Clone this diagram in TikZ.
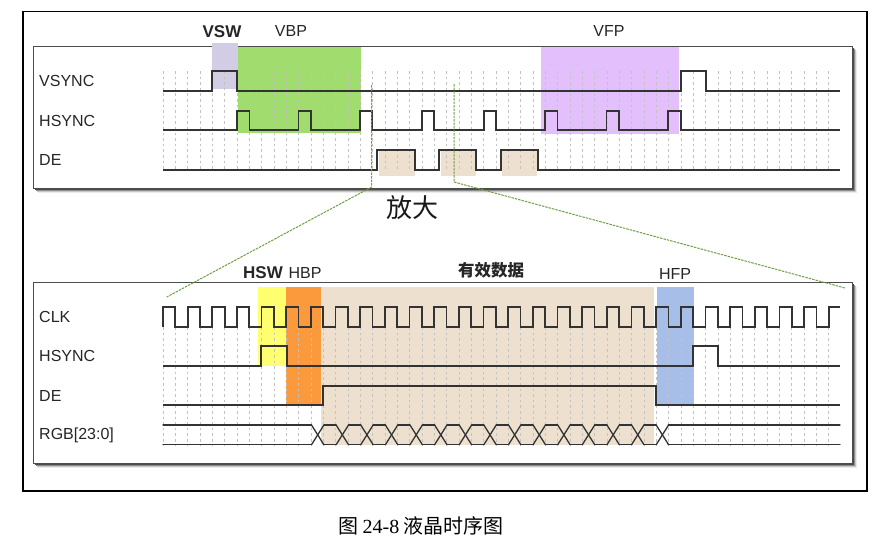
\documentclass[tikz,border=0pt]{standalone}
\usepackage{fontspec}
\setmainfont{Liberation Sans}
\newfontfamily\cjk{Noto Sans CJK SC}
\newfontfamily\serifnum{Liberation Serif}
\definecolor{wave}{HTML}{333333}
\definecolor{vswc}{HTML}{D2CCE4}
\definecolor{vbpc}{HTML}{A0DD6E}
\definecolor{vfpc}{HTML}{E3BFFB}
\definecolor{beige}{HTML}{EDE0CF}
\definecolor{hswc}{HTML}{FFFF70}
\definecolor{hbpc}{HTML}{FA9A3C}
\definecolor{hfpc}{HTML}{A6BEE8}
\definecolor{zoomc}{HTML}{6FA045}
\tikzset{
  x=1pt,y=-1pt,
  panelbox/.style={draw=black!70,line width=1pt,fill=white},
  sig/.style={draw=wave,line width=1.7pt,line join=miter},
  busl/.style={draw=wave,line width=1.3pt,line cap=round},
  gridl/.style={draw=black!24,line width=0.7pt,dash pattern=on 2.6pt off 3pt},
  siglabel/.style={anchor=west,inner sep=0pt,font=\fontsize{16}{16}\selectfont,text=black!85},
  headlabel/.style={inner sep=0pt,font=\fontsize{16}{16}\selectfont,text=black!85},
  headbold/.style={inner sep=0pt,font=\fontsize{17}{17}\selectfont\bfseries,text=black!85},
  zoomline/.style={draw=zoomc,line width=1pt,dash pattern=on 2.5pt off 1pt},
}
\newcommand{\shadowbox}[4]{%
  \foreach \o/\k in {4.5/8,3.5/22,2.5/45,1.5/70}{
    \fill[black!\k] (#1+\o,#2+\o) rectangle (#3+\o,#4+\o);
  }%
}
\begin{document}
\begin{tikzpicture}
\useasboundingbox (0,0) rectangle (879,541);
\fill[white] (0,0) rectangle (879,541);
\draw[black,line width=1.7pt] (23,11.5) rectangle (867,491);

% panels
\shadowbox{33.5}{46.7}{852}{188}
\shadowbox{33.5}{282}{852}{463}
\draw[panelbox] (33.5,46.7) rectangle (852,188);
\draw[panelbox] (33.5,282) rectangle (852,463);

% top shades
\fill[vswc] (212,43) rectangle (237.5,89);
\fill[vbpc] (237.5,47) rectangle (360.7,132.7);
\fill[vfpc] (541,47) rectangle (678.7,134);
\fill[beige] (379.3,151) rectangle (414.7,175.7);
\fill[beige] (441,151) rectangle (476,175.7);
\fill[beige] (501.5,151) rectangle (537,175.7);

% bottom shades
\fill[beige] (321.3,287.3) rectangle (654,445);
\fill[hswc] (257.7,286.7) rectangle (286,366);
\fill[hbpc] (286,286.7) rectangle (321.3,405);
\fill[hfpc] (656.7,287.3) rectangle (694.3,404);

% grid
\foreach \k in {0,...,54}{
  \draw[gridl] ({163+12.33*\k},71) -- ({163+12.33*\k},170);
  \draw[gridl] ({163+12.33*\k},327) -- ({163+12.33*\k},445);
}

% top waves
\draw[sig] (163,91) -- (212.3,91) -- (212.3,71.3) -- (237.3,71.3) -- (237.3,91) -- (680.7,91) -- (680.7,71.3) -- (705.7,71.3) -- (705.7,91) -- (840,91);
\draw[sig] (163,130.3)
  \foreach \a/\b in {237.3/249.4,298.4/311,360/372.3,422.3/434.3,483.7/496,545/557.5,606.5/619,668.3/680.7}{
    -- (\a,130.3) -- (\a,110.7) -- (\b,110.7) -- (\b,130.3)
  } -- (840,130.3);
\draw[sig] (163,170)
  \foreach \a/\b in {377.3/414.7,439.3/476,500.7/537.7}{
    -- (\a,170) -- (\a,150.3) -- (\b,150.3) -- (\b,170)
  } -- (840,170);

% bottom waves
\draw[sig] (163,326.7) -- (163,307)
  \foreach \k in {0,...,26}{
    -- ({163+24.66*\k+12.33},307) -- ({163+24.66*\k+12.33},326.7) -- ({163+24.66*(\k+1)},326.7) -- ({163+24.66*(\k+1)},307)
  } -- (840,307);
\draw[sig] (163,366) -- (261.3,366) -- (261.3,346) -- (286.7,346) -- (286.7,366) -- (693.3,366) -- (693.3,346) -- (717.7,346) -- (717.7,366) -- (840,366);
\draw[sig] (163,405.3) -- (323,405.3) -- (323,385.7) -- (656,385.7) -- (656,405.3) -- (840,405.3);

% bus: rails before, crossings, hexagon rails, rails after
\draw[busl] (163,425) -- (311.5,425);
\draw[busl] (163,444.7) -- (311.5,444.7);
\foreach \k in {0,...,14}{
  \draw[busl] ({317.7+24.62*\k-6.2},425) -- ({317.7+24.62*\k+6.2},444.7);
  \draw[busl] ({317.7+24.62*\k-6.2},444.7) -- ({317.7+24.62*\k+6.2},425);
}
\foreach \k in {0,...,13}{
  \draw[busl] ({317.7+24.62*\k+6.2},425) -- ({317.7+24.62*(\k+1)-6.2},425);
  \draw[busl] ({317.7+24.62*\k+6.2},444.7) -- ({317.7+24.62*(\k+1)-6.2},444.7);
}
\draw[busl] (668.3,425) -- (840,425);
\draw[busl] (668.3,444.7) -- (840,444.7);

% zoom guide lines
\coordinate (la) at (371.7,85);
\coordinate (lb) at (371.7,187);
\coordinate (lc) at (166.7,297);
\coordinate (ra) at (454,84);
\coordinate (rb) at (454,182);
\coordinate (rc) at (845,288);
\draw[zoomline] (la) -- (lb) -- (lc);
\draw[zoomline] (ra) -- (rb) -- (rc);

% labels
\node[siglabel] (l1) at (39,81) {VSYNC};
\node[siglabel] (l2) at (39,120.5) {HSYNC};
\node[siglabel] (l3) at (39,160) {DE};
\node[siglabel] (l4) at (39,316.5) {CLK};
\node[siglabel] (l5) at (39,356) {HSYNC};
\node[siglabel] (l6) at (39,395.5) {DE};
\node[siglabel] (l7) at (39,435) {RGB[23:0]};

\node[headbold] (vsw) at (222,32) {VSW};
\node[headlabel] (vbp) at (291,30.5) {VBP};
\node[headlabel] (vfp) at (609,30.5) {VFP};
\node[headbold] (hsw) at (263,272.5) {HSW};
\node[headlabel] (hbp) at (305,272.5) {HBP};
\node[headlabel] (hfp) at (675,273.5) {HFP};
\node[inner sep=0pt,text=black!85,font=\cjk\fontsize{16.5}{16.5}\selectfont\bfseries] (data) at (491,270) {有效数据};
\node[inner sep=0pt,text=black!90,font=\cjk\fontsize{26}{26}\selectfont] (fd) at (412.5,208) {放大};
\node[inner sep=0pt,text=black,font=\cjk\fontsize{20}{20}\selectfont] (cap) at (421,525.5) {图 {\serifnum 24-8} 液晶时序图};
\end{tikzpicture}
\end{document}
